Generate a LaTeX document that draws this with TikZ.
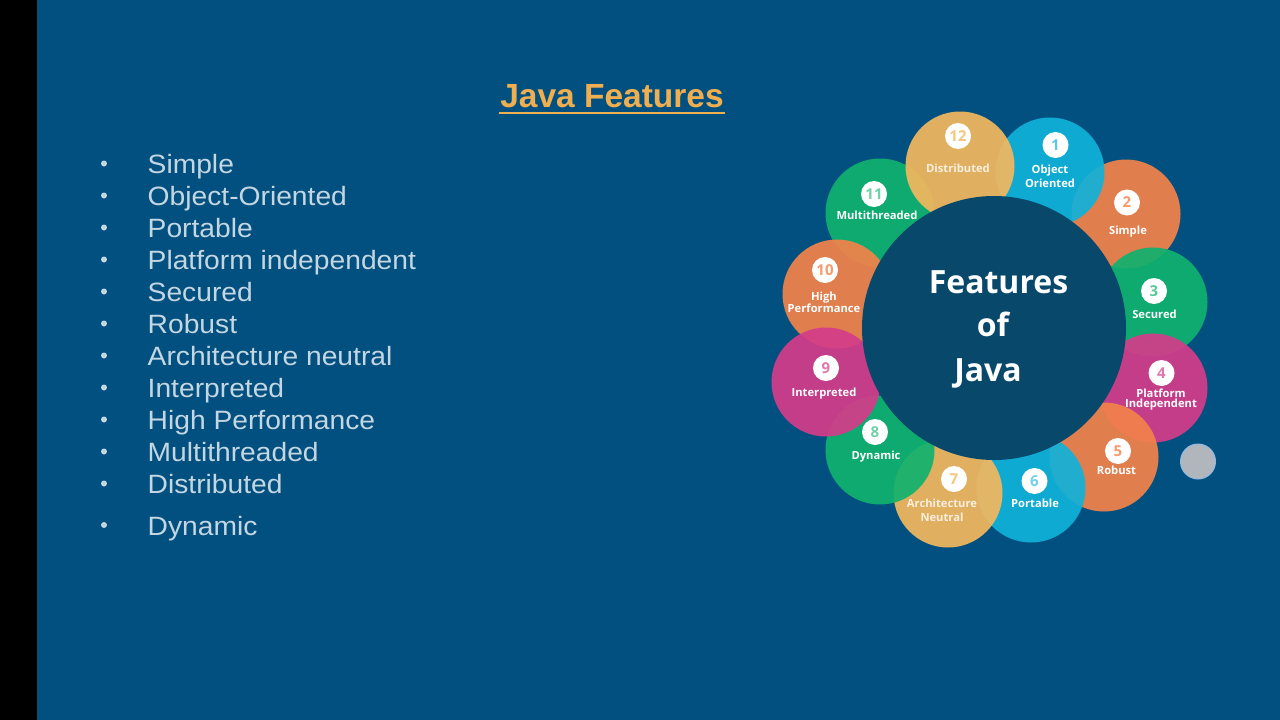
\documentclass[tikz,border=0pt]{standalone}
\usepackage{fontspec}
\setmainfont{Liberation Sans}
\newfontfamily\lab{Open Sans}
\newfontfamily\listf[FakeStretch=1.065]{Liberation Sans}
\definecolor{bgblue}{HTML}{02507F}
\definecolor{hub}{HTML}{08486B}
\definecolor{bGreen}{HTML}{10B26E}
\definecolor{bOrange}{HTML}{F3824A}
\definecolor{bYellow}{HTML}{F3B85D}
\definecolor{bCyan}{HTML}{11B2D8}
\definecolor{bPink}{HTML}{D53C8A}
\definecolor{listtxt}{HTML}{C4D6E2}
\definecolor{titletxt}{HTML}{EFAE50}
\definecolor{ptrfill}{HTML}{B0B6BC}
\definecolor{ptrline}{HTML}{90B8E0}
\tikzset{
  bubble/.style={circle,inner sep=0pt,minimum size=109pt,fill opacity=.92},
  badge/.style={circle,fill=white,inner sep=0pt,minimum size=26pt,font=\lab\bfseries\fontsize{15}{15}\selectfont},
  tiny/.style={anchor=base,inner sep=0pt,text=white,font=\lab\bfseries\fontsize{11.2}{11.2}\selectfont},
  item/.style={anchor=base west,inner sep=0pt,text=listtxt,font=\listf\fontsize{26.5}{26.5}\selectfont},
  dot/.style={circle,fill=listtxt,inner sep=0pt,minimum size=6pt},
  center/.style={anchor=base,inner sep=0pt,text=white,font=\lab\bfseries\fontsize{32}{32}\selectfont}
}
\begin{document}
\begin{tikzpicture}[x=1pt,y=-1pt]
\useasboundingbox (0,0) rectangle (1280,720);
\fill[bgblue] (0,0) rectangle (1280,720);
\fill[black] (0,0) rectangle (37,720);
% title
\node[anchor=base,inner sep=0pt,text=titletxt,font=\bfseries\fontsize{33.5}{33.5}\selectfont] (title) at (612,107) {Java Features};
\coordinate (ul) at (499,113); \coordinate (ur) at (725,113);
\draw[titletxt,line width=1.6pt] (ul) -- (ur);
% list
\foreach \n/\y/\t in {a/173.5/Simple,b/205.5/Object-Oriented,c/237.5/Portable,d/269.5/Platform independent,e/301.5/Secured,f/333.5/Robust,g/365.5/Architecture neutral,h/397.5/Interpreted,i/429.5/High Performance,j/461.5/Multithreaded,k/493.5/Distributed,l/535/Dynamic}{
  \node[item] (item\n) at (147.5,\y) {\t};
  \node[dot] (dot\n) at (104,\y-10) {};
}
% bubbles, stacked in the order of their overlaps
\node[bubble,fill=bOrange] (b2) at (1126,214) {};
\node[bubble,fill=bCyan] (b1) at (1050,172) {};
\node[bubble,fill=bGreen] (b11) at (880,213) {};
\node[bubble,fill=bYellow] (b12) at (960,166) {};
\node[bubble,fill=bOrange] (b10) at (837,294) {};
\node[bubble,fill=bGreen] (b3) at (1153,302) {};
\node[bubble,fill=bPink] (b4) at (1153,388) {};
\node[bubble,fill=bOrange] (b5) at (1104,457) {};
\node[bubble,fill=bCyan] (b6) at (1031,488) {};
\node[bubble,fill=bYellow] (b7) at (948,493) {};
\node[bubble,fill=bGreen] (b8) at (880,450) {};
\node[bubble,fill=bPink] (b9) at (826,382) {};
% hub
\node[circle,fill=hub,inner sep=0pt,minimum size=264pt] (hub) at (994,328) {};
\node[center] (t1) at (998.5,293) {Features};
\node[center] (t2) at (993,336) {of};
\node[center] (t3) at (988,381) {Java};
% number badges
\node[badge,text=bCyan!70!white] (n1) at (1055.5,145) {1};
\node[badge,text=bOrange!80!white] (n2) at (1127,202.5) {2};
\node[badge,text=bGreen!70!white] (n3) at (1154,291) {3};
\node[badge,text=bPink!70!white] (n4) at (1161.5,373) {4};
\node[badge,text=bOrange!80!white] (n5) at (1118,451) {5};
\node[badge,text=bCyan!60!white] (n6) at (1034.5,481) {6};
\node[badge,text=bYellow!80!white] (n7) at (954,479) {7};
\node[badge,text=bGreen!60!white] (n8) at (875,432) {8};
\node[badge,text=bPink!70!white] (n9) at (826,368) {9};
\node[badge,text=bOrange!80!white] (n10) at (825,270) {10};
\node[badge,text=bGreen!60!white] (n11) at (874,194) {11};
\node[badge,text=bYellow!80!white] (n12) at (958,136) {12};
% labels
\node[tiny] (l1a) at (1050,173) {Object};
\node[tiny] (l1b) at (1050,187) {Oriented};
\node[tiny] (l2) at (1128,234) {Simple};
\node[tiny] (l3) at (1154.5,318.5) {Secured};
\node[tiny] (l4a) at (1161,397) {Platform};
\node[tiny] (l4b) at (1161,407.5) {Independent};
\node[tiny] (l5) at (1116.5,474.5) {Robust};
\node[tiny] (l6) at (1035,507.5) {Portable};
\node[tiny,opacity=.8] (l7a) at (942,507) {Architecture};
\node[tiny,opacity=.8] (l7b) at (942,521) {Neutral};
\node[tiny] (l8) at (876,459) {Dynamic};
\node[tiny] (l9) at (824,396.5) {Interpreted};
\node[tiny] (l10a) at (824,300) {High};
\node[tiny] (l10b) at (824,312.5) {Performance};
\node[tiny] (l11) at (877,219.5) {Multithreaded};
\node[tiny,opacity=.8] (l12) at (958,172.5) {Distributed};
% pointer
\node[circle,fill=ptrfill,draw=ptrline,line width=1pt,inner sep=0pt,minimum size=35pt] (ptr) at (1198,461.5) {};
\end{tikzpicture}
\end{document}
